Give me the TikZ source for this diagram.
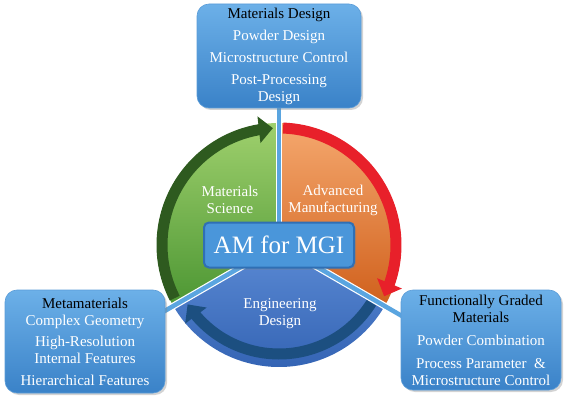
\documentclass[tikz,border=0pt]{standalone}
\usepackage{fontspec}
\setmainfont{Liberation Serif}
\usetikzlibrary{arrows.meta,bending,shadows}

\definecolor{grnlt}{HTML}{9FD06D}
\definecolor{grndk}{HTML}{4C9633}
\definecolor{grnarrow}{HTML}{2E5A1F}
\definecolor{orglt}{HTML}{F5A86E}
\definecolor{orgdk}{HTML}{D0601C}
\definecolor{redarrow}{HTML}{E8202A}
\definecolor{blult}{HTML}{5B8AD4}
\definecolor{bludk}{HTML}{2F5FB0}
\definecolor{bluarrow}{HTML}{1C4F80}
\definecolor{boxtop}{HTML}{6CB0E8}
\definecolor{boxbot}{HTML}{3A82C8}
\definecolor{boxedge}{HTML}{5A9CD8}
\definecolor{divblue}{HTML}{5AA5E0}
\definecolor{hubfill}{HTML}{4A96DA}
\definecolor{hubedge}{HTML}{2F6FB5}

\begin{document}
\begin{tikzpicture}[x=1pt,y=1pt,
  box/.style={draw=boxedge, line width=0.6pt, rounded corners=12pt, top color=boxtop, bottom color=boxbot,
    drop shadow={opacity=0.35,shadow xshift=2pt,shadow yshift=-2pt},
    align=center, text=white, font=\fontsize{15}{17}\selectfont, inner sep=0pt},
  divider/.style={draw=white, line width=1.2pt, double=divblue, double distance=4.5pt},
  ring/.style={line width=11pt, -{Triangle[width=26pt,length=14pt]}},
  sectortext/.style={text=white, align=center, font=\fontsize{15}{17}\selectfont}
]

\useasboundingbox (0,0) rectangle (566,400);
\coordinate (c) at (279,155);

% Sectors
\shade[top color=grnlt, bottom color=grndk] (c) -- ++(90:122) arc (90:210:122) -- cycle;
\shade[top color=orglt, bottom color=orgdk] (c) -- ++(-30:122) arc (-30:90:122) -- cycle;
\shade[top color=blult, bottom color=bludk] (c) -- ++(210:122) arc (210:330:122) -- cycle;

% Arrows round the circle
\draw[ring, grnarrow] ([shift=(207:117)]c) arc (207:93:117);
\draw[ring, redarrow] ([shift=(88:117)]c) arc (88:-26:117);
\draw[ring, bluarrow] ([shift=(-32:109)]c) arc (-32:-147:109);

% Dividers
\draw[divider] (c) -- ++(90:200);
\draw[divider] (c) -- ++(210:136);
\draw[divider] (c) -- ++(-30:145);

% Boxes
\node[box, minimum width=164, minimum height=104] (design) at (279,344)
  {\textcolor{black}{Materials Design}\\[5pt]
   Powder Design\\[5pt]
   Microstructure Control\\[5pt]
   Post-Processing\\
   Design};
\node[box, minimum width=160, minimum height=103] (meta) at (85,58.5)
  {\textcolor{black}{Metamaterials}\\
   Complex Geometry\\[4pt]
   High-Resolution\\
   Internal Features\\[5pt]
   Hierarchical Features};
\node[box, minimum width=160, minimum height=100] (fgm) at (481,60)
  {\textcolor{black}{Functionally Graded}\\
   \textcolor{black}{Materials}\\[6pt]
   Powder Combination\\[6pt]
   Process Parameter~~\&\\
   Microstructure Control};

% Centre
\node[draw=hubedge, line width=2pt, fill=hubfill, rounded corners=5pt,
  drop shadow={opacity=0.35,shadow xshift=2pt,shadow yshift=-2pt},
  minimum width=150, minimum height=45, text=white, font=\fontsize{25}{30}\selectfont] (hub) at (c) {AM for MGI};

\node[sectortext] (sci) at (230,200) {Materials\\Science};
\node[sectortext] (manu) at (333,200) {Advanced\\Manufacturing};
\node[sectortext] (eng) at (280,86) {Engineering\\Design};

\end{tikzpicture}
\end{document}
